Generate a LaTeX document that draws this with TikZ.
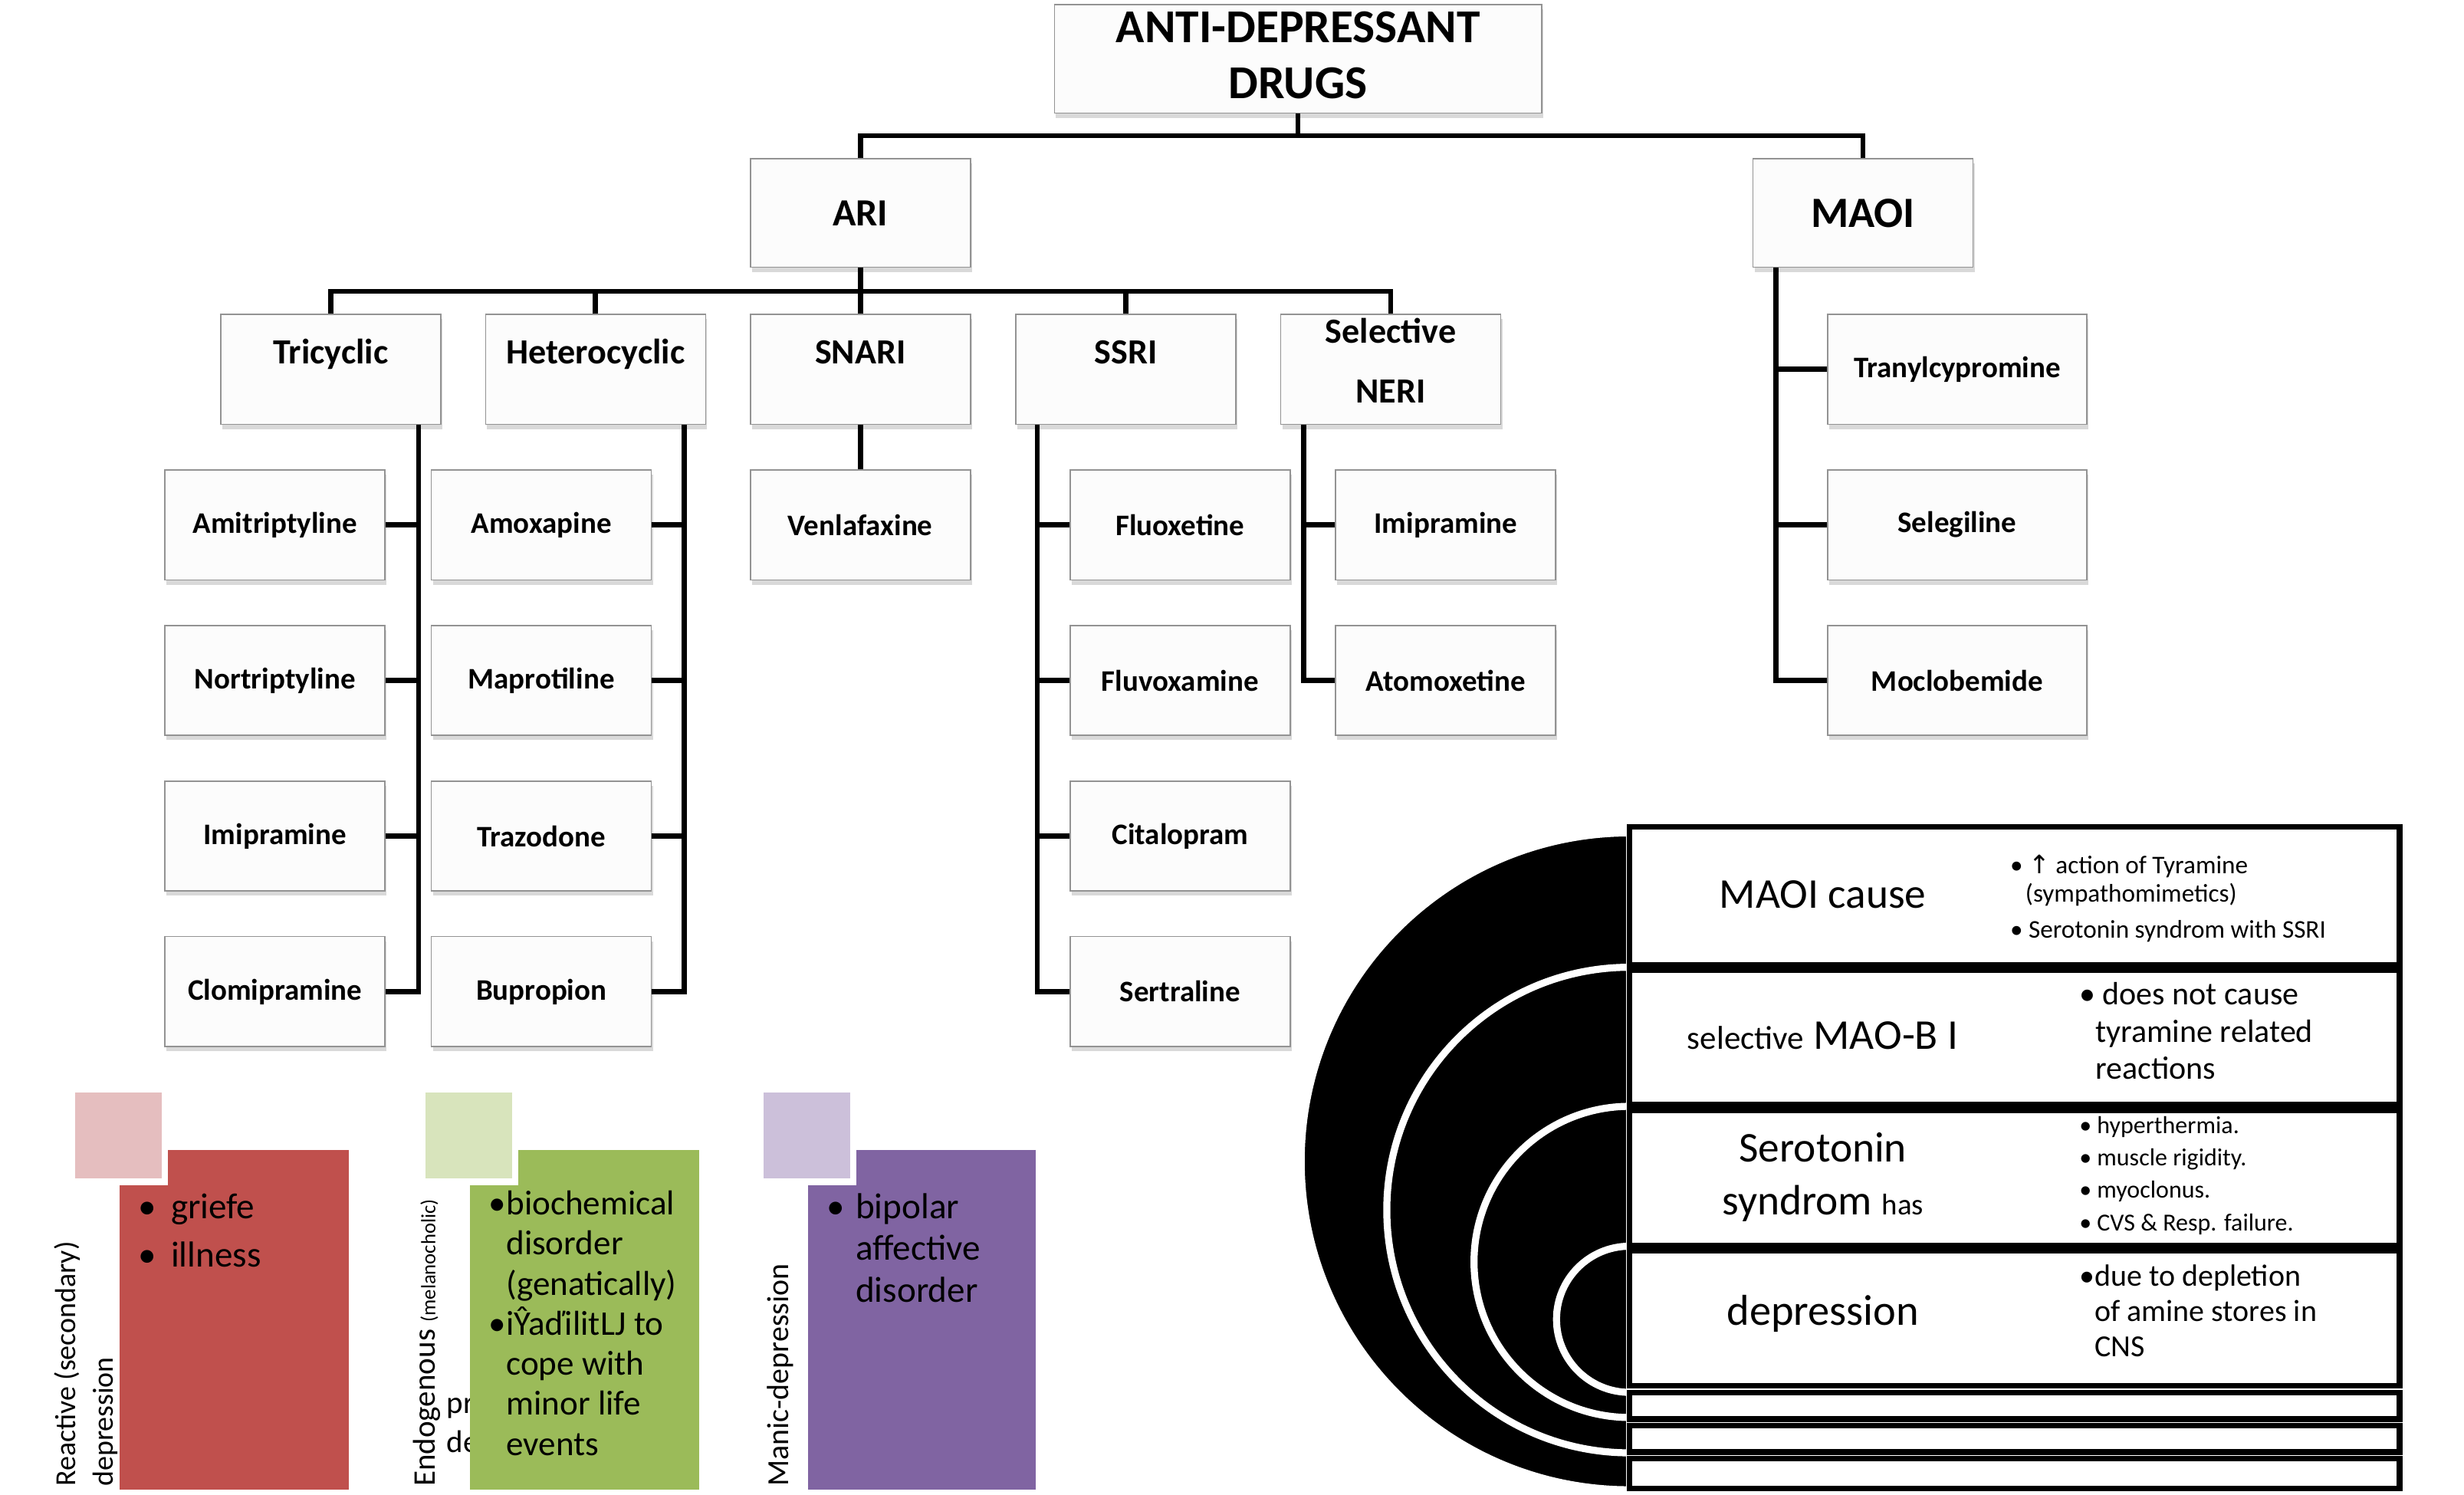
\documentclass[tikz,border=0pt]{standalone}
\usepackage{fontspec}
\setmainfont{Carlito}
\newfontfamily\arrowfont{DejaVu Sans}
\usetikzlibrary{shadows}
\definecolor{boxfill}{HTML}{FCFCFC}
\definecolor{redbox}{HTML}{C0504D}
\definecolor{redtab}{HTML}{E5BEBF}
\definecolor{greenbox}{HTML}{9BBB59}
\definecolor{greentab}{HTML}{D8E4BC}
\definecolor{violetbox}{HTML}{8064A2}
\definecolor{violettab}{HTML}{CCC0DA}

\begin{document}
\begin{tikzpicture}[x=1pt,y=-1pt,
		drug/.style={draw=gray!85, line width=.8pt, fill=boxfill, inner sep=0pt,
			minimum width=140pt, minimum height=70pt,
			font=\bfseries\fontsize{19}{23}\selectfont,
			drop shadow={shadow xshift=1pt, shadow yshift=-3pt, opacity=.3}},
		cls/.style={drug, font=\bfseries\fontsize{22.5}{38}\selectfont},
		upper/.style={text height=15pt, text depth=22pt},
		link/.style={line width=3.3pt},
		disc/.style={fill=black, draw=white, line width=4.5pt},
		tbox/.style={draw=black, line width=3.5pt, fill=white},
		list/.style={anchor=west, align=left, inner sep=0pt},
		side/.style={rotate=90, inner sep=0pt, align=left}]
	\useasboundingbox (0,0) rectangle (1568,951);

	\node[drug, minimum width=310pt, minimum height=69pt, align=center,
		font=\bfseries\fontsize{30}{36}\selectfont] (top) at (826,37.5) {ANTI-DEPRESSANT\\DRUGS\rule[-5pt]{0pt}{0pt}};
	\node[drug, minimum height=69pt, font=\bfseries\fontsize{24.5}{28}\selectfont] (ari) at (547.5,135.5) {ARI};
	\node[drug, minimum height=69pt, font=\bfseries\fontsize{27.5}{30}\selectfont] (maoi) at (1185.5,135.5) {MAOI};

	\node[cls, upper] (tri) at (210.5,235) {Tricyclic};
	\node[cls, upper] (het) at (379,235) {Heterocyclic};
	\node[cls, upper] (snari) at (547.5,235) {SNARI};
	\node[cls, upper] (ssri) at (716.5,235) {SSRI};
	\node[cls, align=center] (neri) at (885,235) {Selective\\NERI\rule[-11pt]{0pt}{0pt}};

	\node[drug] (ami) at (175,334) {Amitriptyline};
	\node[drug] (nor) at (175,433) {Nortriptyline};
	\node[drug] (imi) at (175,532) {Imipramine};
	\node[drug] (clo) at (175,631) {Clomipramine};
	\node[drug] (amo) at (344.5,334) {Amoxapine};
	\node[drug] (map) at (344.5,433) {Maprotiline};
	\node[drug] (tra) at (344.5,532) {Trazodone};
	\node[drug] (bup) at (344.5,631) {Bupropion};
	\node[drug] (ven) at (547.5,334) {Venlafaxine};
	\node[drug] (flu) at (751,334) {Fluoxetine};
	\node[drug] (flv) at (751,433) {Fluvoxamine};
	\node[drug] (cit) at (751,532) {Citalopram};
	\node[drug] (ser) at (751,631) {Sertraline};
	\node[drug] (ipr) at (920,334) {Imipramine};
	\node[drug] (ato) at (920,433) {Atomoxetine};
	\node[drug, minimum width=165pt] (tcp) at (1245.5,235) {Tranylcypromine};
	\node[drug, minimum width=165pt] (sel) at (1245.5,334) {Selegiline};
	\node[drug, minimum width=165pt] (moc) at (1245.5,433) {Moclobemide};

	\draw[link] (top.south) -- ++(0,14) -| (ari.north);
	\draw[link] (top.south) ++(0,14) -| (maoi.north);
	\draw[link] (ari.south) -- ++(0,15) -| (tri.north);
	\foreach \c in {het,snari,ssri,neri}
		\draw[link] (ari.south) ++(0,15) -| (\c.north);
	\draw[link] (snari.south) -- (ven.north);

	\coordinate (ttri) at ([xshift=-14.5pt]tri.south east);
	\coordinate (thet) at ([xshift=-14pt]het.south east);
	\coordinate (tssri) at ([xshift=14pt]ssri.south west);
	\coordinate (tneri) at ([xshift=15pt]neri.south west);
	\coordinate (tmaoi) at ([xshift=15pt]maoi.south west);
	\draw[link] (ttri) |- (clo.east);
	\foreach \n in {ami,nor,imi} \draw[link] (\n.east) -- (\n.east -| ttri);
	\draw[link] (thet) |- (bup.east);
	\foreach \n in {amo,map,tra} \draw[link] (\n.east) -- (\n.east -| thet);
	\draw[link] (tssri) |- (ser.west);
	\foreach \n in {flu,flv,cit} \draw[link] (\n.west) -- (\n.west -| tssri);
	\draw[link] (tneri) |- (ato.west);
	\draw[link] (ipr.west) -- (ipr.west -| tneri);
	\draw[link] (tmaoi) |- (moc.west);
	\foreach \n in {tcp,sel} \draw[link] (\n.west) -- (\n.west -| tmaoi);

	\node[side, anchor=south west, font=\fontsize{18.5}{24}\selectfont] (reactive) at (75,946) {Reactive (secondary)\\depression};
	\node[side, anchor=base west, font=\fontsize{20}{24}\selectfont] (endo) at (277,946) {Endogenous {\fontsize{13}{16}\selectfont(melanocholic)}};
	\node[side, anchor=base west, font=\fontsize{19.5}{24}\selectfont] (manic) at (502,946) {Manic-depression};
	\node[list, font=\fontsize{20}{25}\selectfont] (hidden) at (284,907) {pr\\de};

	\fill[redbox] (76,732) rectangle (222,948);
	\filldraw[redtab, draw=white, line width=4pt] (46,693) rectangle (105,752);
	\fill[greenbox] (299,732) rectangle (445,948);
	\filldraw[greentab, draw=white, line width=4pt] (269,693) rectangle (328,752);
	\fill[violetbox] (514,732) rectangle (659,948);
	\filldraw[violettab, draw=white, line width=4pt] (484,693) rectangle (543,752);

	\node[list, font=\fontsize{23}{31}\selectfont] (reasons) at (88,783) {\textbullet\hspace{.4em}griefe\\\textbullet\hspace{.4em}illness};
	\node[list, font=\fontsize{22}{25.5}\selectfont] (causes) at (311,842) {\textbullet biochemical\\\hphantom{\textbullet}disorder\\\hphantom{\textbullet}(genatically)\\\textbullet iŶaďilitLJ to\\\hphantom{\textbullet}cope with\\\hphantom{\textbullet}minor life\\\hphantom{\textbullet}events};
	\node[list, font=\fontsize{23}{26.5}\selectfont] (bipolar) at (526,794) {\textbullet\hspace{.3em}bipolar\\\hphantom{\textbullet\hspace{.3em}}affective\\\hphantom{\textbullet\hspace{.3em}}disorder};

	\filldraw[disc] (1037,530) arc[start angle=270, end angle=90, radius=209] -- cycle;
	\filldraw[disc] (1037,615.5) arc[start angle=270, end angle=90, radius=154.5] -- cycle;
	\filldraw[disc] (1037,704) arc[start angle=270, end angle=90, radius=99] -- cycle;
	\filldraw[disc] (1037,793) arc[start angle=270, end angle=90, radius=46.5] -- cycle;

	\draw[tbox] (1037,526) rectangle (1527,614);
	\draw[tbox] (1037,617.5) rectangle (1527,703);
	\draw[tbox] (1037,706.5) rectangle (1527,792.5);
	\draw[tbox] (1037,796) rectangle (1527,882);
	\draw[tbox] (1037,886) rectangle (1527,903);
	\draw[tbox] (1037,907) rectangle (1527,924);
	\draw[tbox] (1037,928) rectangle (1527,947);

	\node[font=\fontsize{27}{32}\selectfont] (mcause) at (1160,569) {MAOI cause};
	\node[font=\fontsize{27}{32}\selectfont] (maob) at (1160,659) {{\fontsize{21}{25}\selectfont selective} MAO-B I};
	\node[align=center, font=\fontsize{27}{34}\selectfont] (sersyn) at (1160,749) {Serotonin\\syndrom {\fontsize{19}{22}\selectfont has}};
	\node[font=\fontsize{27.5}{32}\selectfont] (depr) at (1160,836) {depression};

	\node[list, font=\fontsize{16.2}{18}\selectfont] (mtext) at (1279,572) {\textbullet\ {\arrowfont ↑} action of Tyramine\\\hspace*{.6em}(sympathomimetics)\\[5pt]\textbullet\ Serotonin syndrom with SSRI};
	\node[list, font=\fontsize{20.5}{23.5}\selectfont] (btext) at (1323,656) {\textbullet\ does not cause\\\hspace*{.5em}tyramine related\\\hspace*{.5em}reactions};
	\node[list, font=\fontsize{15.6}{20.7}\selectfont] (stext) at (1323,748) {\textbullet\ hyperthermia.\\\textbullet\ muscle rigidity.\\\textbullet\ myoclonus.\\\textbullet\ CVS \& Resp. failure.};
	\node[list, font=\fontsize{19.5}{22.5}\selectfont] (dtext) at (1323,834) {\textbullet due to depletion\\\hspace*{.5em}of amine stores in\\\hspace*{.5em}CNS};
\end{tikzpicture}
\end{document}
